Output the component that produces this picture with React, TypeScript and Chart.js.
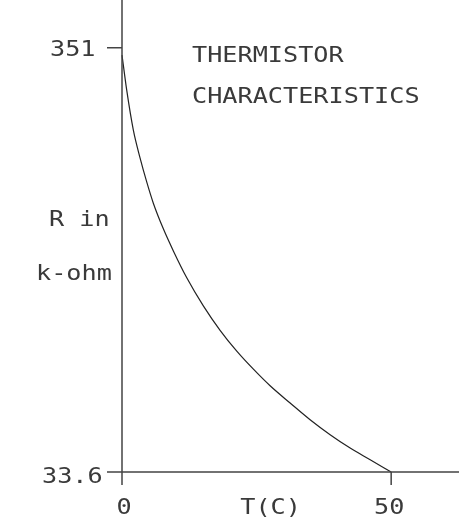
import React, { useEffect, useRef } from "react";
import { Chart, registerables } from "chart.js";

Chart.register(...registerables);

// ---- data ----
const tempC = [0, 0.87, 2.1, 3.35, 4.59, 5.82, 7.68, 9.54, 12.03, 15.11, 18.22, 21.32, 24.41, 27.51, 31.23, 34.94, 38.66, 42.38, 46.1, 50];
const resistanceKOhm = [345.5, 319.4, 289.5, 268.6, 250.6, 234.7, 215.5, 199.0, 178.9, 157.9, 139.6, 124.0, 110.5, 98.1, 85.2, 72.7, 61.5, 51.5, 42.8, 33.6];

const yTickValues = [351, 33.6];
const yTickLabels = ["351", "33.6"];
const xTickValues = [0, 50];
const xTickLabels = ["0", "50"];
const titleLines = ["THERMISTOR", "CHARACTERISTICS"];
const yTitleLines = ["R in", "k-ohm"];
const xTitle = "T(C)";

const X_MIN = 0;
const X_MAX = 62.6;
const Y_MIN = 33.6;
const Y_MAX = 386.7;

const FONT = "21px 'DejaVu Sans Mono', monospace";
const TEXT_COLOR = "#3a3a3a";
const LINE_COLOR = "#444";

function drawText(ctx: CanvasRenderingContext2D, text: string, x: number, y: number, align: CanvasTextAlign) {
  ctx.save();
  ctx.font = FONT;
  ctx.fillStyle = TEXT_COLOR;
  ctx.textBaseline = "alphabetic";
  ctx.textAlign = align;
  ctx.translate(x, y);
  ctx.scale(1.2, 1);
  ctx.fillText(text, 0, 0);
  ctx.restore();
}

const axesPlugin = {
  id: "plotterAxes",
  afterDraw(chart: any) {
    const ctx: CanvasRenderingContext2D = chart.ctx;
    const xs = chart.scales.x;
    const ys = chart.scales.y;
    const area = chart.chartArea;
    const x0 = xs.getPixelForValue(xTickValues[0]);
    const yBase = ys.getPixelForValue(yTickValues[1]);

    ctx.save();
    ctx.strokeStyle = LINE_COLOR;
    ctx.lineWidth = 1.5;
    ctx.beginPath();
    // y axis
    ctx.moveTo(x0, area.top);
    ctx.lineTo(x0, yBase + 13);
    // x axis
    ctx.moveTo(x0 - 15, yBase);
    ctx.lineTo(area.right, yBase);
    // y tick (top)
    const yTop = ys.getPixelForValue(yTickValues[0]);
    ctx.moveTo(x0 - 15, yTop);
    ctx.lineTo(x0, yTop);
    // x tick (right)
    const xRight = xs.getPixelForValue(xTickValues[1]);
    ctx.moveTo(xRight, yBase);
    ctx.lineTo(xRight, yBase + 13);
    ctx.stroke();
    ctx.restore();

    // y tick labels
    drawText(ctx, yTickLabels[0], x0 - 72, yTop + 8, "left");
    drawText(ctx, yTickLabels[1], x0 - 80, yBase + 11, "left");
    // x tick labels
    drawText(ctx, xTickLabels[0], xs.getPixelForValue(xTickValues[0]) + 2, yBase + 42, "center");
    drawText(ctx, xTickLabels[1], xs.getPixelForValue(xTickValues[1]) - 2, yBase + 42, "center");
    // x title
    drawText(ctx, xTitle, (xs.getPixelForValue(xTickValues[0]) + xs.getPixelForValue(xTickValues[1])) / 2 + 14, yBase + 42, "center");
    // y title
    drawText(ctx, yTitleLines[0], x0 - 73, 226, "left");
    drawText(ctx, yTitleLines[1], x0 - 86, 280, "left");
    // chart title
    drawText(ctx, titleLines[0], 192, 62, "left");
    drawText(ctx, titleLines[1], 192, 103, "left");
  },
};

export default function App() {
  const canvasRef = useRef<HTMLCanvasElement | null>(null);

  useEffect(() => {
    const canvas = canvasRef.current;
    if (!canvas) return;
    const chart = new Chart(canvas, {
      type: "line",
      data: {
        datasets: [
          {
            data: tempC.map((t, i) => ({ x: t, y: resistanceKOhm[i] })),
            borderColor: "#222",
            borderWidth: 1.2,
            pointRadius: 0,
            cubicInterpolationMode: "monotone",
            fill: false,
            clip: false as any,
          },
        ],
      },
      options: {
        responsive: false,
        animation: false,
        layout: { padding: { left: 122, top: 0, right: 15, bottom: 55 } },
        plugins: { legend: { display: false }, tooltip: { enabled: false } },
        scales: {
          x: { type: "linear", display: false, min: X_MIN, max: X_MAX },
          y: { type: "linear", display: false, min: Y_MIN, max: Y_MAX },
        },
      },
      plugins: [axesPlugin],
    });
    return () => chart.destroy();
  }, []);

  return (
    <div style={{ position: "fixed", left: 0, top: 0, width: 474, height: 527, background: "#fff" }}>
      <canvas ref={canvasRef} width={474} height={527} style={{ display: "block" }} />
    </div>
  );
}
